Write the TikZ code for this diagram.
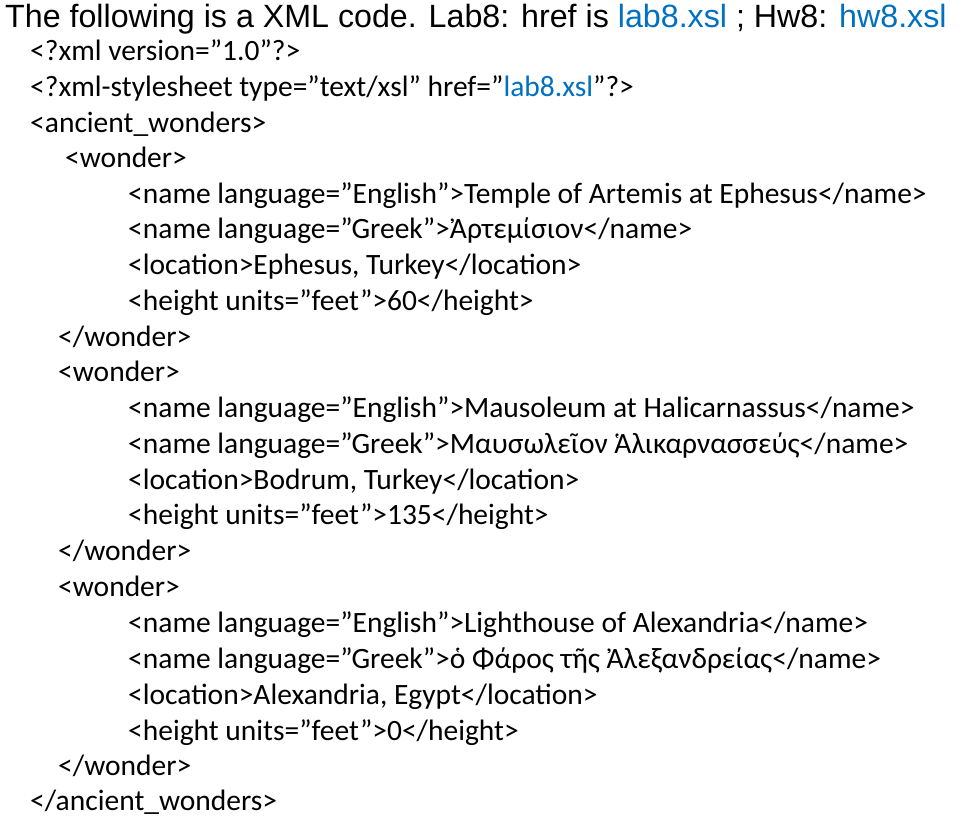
\documentclass[tikz,border=0pt]{standalone}
\usepackage{fontspec}
\setmainfont{Carlito}
\newfontfamily\titlefont{Liberation Sans}
\definecolor{linkblue}{HTML}{0070C0}
\newcommand\dq{\char34\relax}
\begin{document}
\begin{tikzpicture}[x=1pt,y=-1pt,
  code/.style={anchor=base west,inner sep=0pt,font=\fontsize{29.5}{34}\selectfont},
  ttl/.style={anchor=base west,inner sep=0pt,font=\titlefont\fontsize{32.2}{36}\selectfont}]
\useasboundingbox[fill=white] (0,0) rectangle (980,830);
\node[ttl] (t) at (5,27) {The following is a XML code. Lab8: href is \textcolor{linkblue}{lab8.xsl} ; Hw8: \textcolor{linkblue}{hw8.xsl}};
\node[code] (l1) at (30,60) {<?xml version=\dq 1.0\dq?>};
\node[code] (l2) at (30,96) {<?xml-stylesheet type=\dq text/xsl\dq{} href=\dq\textcolor{linkblue}{lab8.xsl}\dq?>};
\node[code] (l3) at (30,132) {<ancient\_wonders>};
\node[code] (l4) at (65,167) {<wonder>};
\node[code] (l5) at (128,203) {<name language=\dq English\dq>Temple of Artemis at Ephesus</name>};
\node[code] (l6) at (128,238) {<name language=\dq Greek\dq>Ἀρτεμίσιον</name>};
\node[code] (l7) at (128,274) {<location>Ephesus, Turkey</location>};
\node[code] (l8) at (128,310) {<height units=\dq feet\dq>60</height>};
\node[code] (l9) at (58,346) {</wonder>};
\node[code] (l10) at (58,381) {<wonder>};
\node[code] (l11) at (128,417) {<name language=\dq English\dq>Mausoleum at Halicarnassus</name>};
\node[code] (l12) at (128,453) {<name language=\dq Greek\dq>Μαυσωλεῖον Ἁλικαρνασσεύς</name>};
\node[code] (l13) at (128,489) {<location>Bodrum, Turkey</location>};
\node[code] (l14) at (128,524) {<height units=\dq feet\dq>135</height>};
\node[code] (l15) at (58,560) {</wonder>};
\node[code] (l16) at (58,596) {<wonder>};
\node[code] (l17) at (128,632) {<name language=\dq English\dq>Lighthouse of Alexandria</name>};
\node[code] (l18) at (128,668) {<name language=\dq Greek\dq>ὁ Φάρος τῆς Ἀλεξανδρείας</name>};
\node[code] (l19) at (128,704) {<location>Alexandria, Egypt</location>};
\node[code] (l20) at (128,740) {<height units=\dq feet\dq>0</height>};
\node[code] (l21) at (58,775) {</wonder>};
\node[code] (l22) at (30,810) {</ancient\_wonders>};
\end{tikzpicture}
\end{document}
